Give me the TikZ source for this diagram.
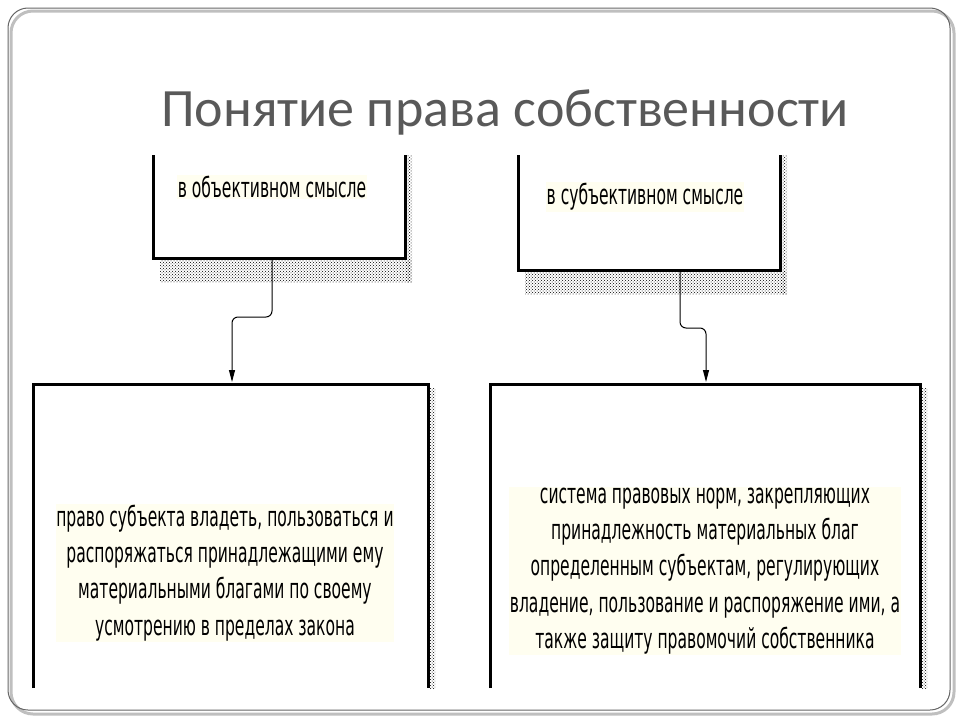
\documentclass[tikz,border=0pt]{standalone}
\usepackage{fontspec}
\setmainfont{DejaVu Sans Condensed}
\newfontfamily\titlefont{Carlito}
\usetikzlibrary{patterns,arrows.meta}
\begin{document}
\begin{tikzpicture}[x=1pt,y=-1pt,
  hatch/.style={pattern=crosshatch dots,pattern color=black,draw=none},
  edge/.style={line width=3pt},
  conn/.style={line width=1pt,-{Triangle[length=12pt,width=6pt]},rounded corners=6pt},
  lbl/.style={font=\fontsize{24}{31.5}\selectfont,xscale=0.72,yscale=1.15,align=center,fill=yellow!6,inner sep=1pt}]
\useasboundingbox (0,0) rectangle (960,720);
\fill[white] (0,0) rectangle (960,720);
\draw[black!25,line width=3pt,rounded corners=22pt] (11,11) rectangle (954,714);
\draw[black!60,line width=1pt,rounded corners=20pt] (8,8) rectangle (950,710);
\node[font=\titlefont\fontsize{54}{60}\selectfont,text=black!65] (title) at (505,112) {Понятие права собственности};
% top left box
\fill[hatch] (160,259) rectangle (411,282);
\fill[hatch] (406,155) rectangle (412,282);
\draw[edge] (153,155) -- (153,258) -- (405,258) -- (405,155);
\node[lbl] (tl) at (272,187) {в объективном смысле};
% top right box
\fill[hatch] (525,271) rectangle (786,294);
\fill[hatch] (781,155) rectangle (787,294);
\draw[edge] (518,155) -- (518,270) -- (780,270) -- (780,155);
\node[lbl] (tr) at (645,197) {в субъективном смысле};
% bottom boxes
\fill[hatch] (429,388) rectangle (435,688);
\draw[edge] (33,688) -- (33,384) -- (428,384) -- (428,688);
\fill[hatch] (921,388) rectangle (927,688);
\draw[edge] (490,688) -- (490,384) -- (920,384) -- (920,688);
\coordinate (bl) at (232,382);
\coordinate (br) at (706,382);
\node[lbl] (blt) at (225,573) {право субъекта владеть, пользоваться и\\распоряжаться принадлежащими ему\\материальными благами по своему\\усмотрению в пределах закона};
\node[lbl] (brt) at (705,571) {система правовых норм, закрепляющих\\принадлежность материальных благ\\определенным субъектам, регулирующих\\владение, пользование и распоряжение ими, а\\также защиту правомочий собственника};
\draw[conn] (272,259) -- (272,317) -- (232,317) -- (bl);
\draw[conn] (680,271) -- (680,328) -- (706,328) -- (br);
\end{tikzpicture}
\end{document}
